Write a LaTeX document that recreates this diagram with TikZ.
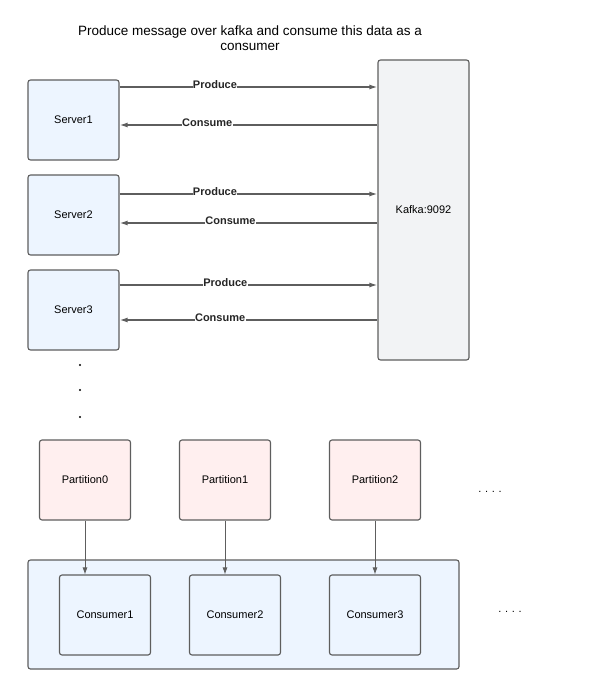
\documentclass[tikz,border=0pt]{standalone}
\usepackage{fontspec}
\setmainfont{Liberation Sans}
\usetikzlibrary{arrows.meta}
\usetikzlibrary{calc}

\definecolor{edgegray}{HTML}{5E5E5E}
\definecolor{serverblue}{HTML}{EDF5FF}
\definecolor{partpink}{HTML}{FFEFEF}
\definecolor{kafkagray}{HTML}{F2F3F5}

\tikzset{
  box/.style={draw=edgegray, line width=1.1pt, rounded corners=2.5pt,
    minimum width=91pt, minimum height=80pt, font=\fontsize{11}{13}\selectfont},
  server/.style={box, fill=serverblue},
  part/.style={box, fill=partpink},
  flow/.style={draw=edgegray, line width=1.4pt, -{Latex[length=8pt,width=5pt]}},
  feed/.style={draw=edgegray, line width=0.8pt, -{Latex[length=7pt,width=5pt]}},
  tag/.style={fill=white, inner sep=0.4pt, yshift=2pt, text=black!85,
    font=\bfseries\fontsize{11}{13}\selectfont}
}

\begin{document}
\begin{tikzpicture}[x=1pt, y=-1pt]
\useasboundingbox (0,0) rectangle (590,690);

% Title
\node[align=center, font=\fontsize{13.5}{15.5}\selectfont] (title) at (250,38)
  {Produce message over kafka and consume this data as a\\consumer};

% First, define nodes
\node[server] (S1) at (73.5,120) {Server1};
\node[server] (S2) at (73.5,215) {Server2};
\node[server] (S3) at (73.5,310) {Server3};
\node[box, fill=kafkagray, minimum height=300pt] (K) at (423.5,210) {Kafka:9092};

% produce / consume lines, shifted from the server centre
\draw[flow] ([yshift=33pt]S1.east) -- ([yshift=33pt]S1.east -| K.west)
  node[tag, pos=0.37] {Produce};
\draw[flow] ([yshift=-5pt]S1.east -| K.west) -- ([yshift=-5pt]S1.east)
  node[tag, pos=0.66] {Consume};
\draw[flow] ([yshift=21pt]S2.east) -- ([yshift=21pt]S2.east -| K.west)
  node[tag, pos=0.37] {Produce};
\draw[flow] ([yshift=-8pt]S2.east -| K.west) -- ([yshift=-8pt]S2.east)
  node[tag, pos=0.57] {Consume};
\draw[flow] ([yshift=25pt]S3.east) -- ([yshift=25pt]S3.east -| K.west)
  node[tag, pos=0.41] {Produce};
\draw[flow] ([yshift=-10pt]S3.east -| K.west) -- ([yshift=-10pt]S3.east)
  node[tag, pos=0.61] {Consume};

% more servers
\foreach \y in {365,390,417} {
  \fill (80,\y) circle (1.2pt);
}

% Partitions
\node[part] (P0) at (85,480) {Partition0};
\node[part] (P1) at (225,480) {Partition1};
\node[part] (P2) at (375,480) {Partition2};
\node[font=\fontsize{11}{13}\selectfont] (pmore) at (490,492) {.\,\,.\,\,.\,\,.};

% Consumer group and its consumers
\node[draw=edgegray, line width=1.1pt, rounded corners=2.5pt, fill=serverblue,
  minimum width=431pt, minimum height=109pt] (G) at (243.5,614.5) {};
\node[server] (C1) at (105,615) {Consumer1};
\node[server] (C2) at (235,615) {Consumer2};
\node[server] (C3) at (375,615) {Consumer3};
\node[font=\fontsize{11}{13}\selectfont] (cmore) at (510,612) {.\,\,.\,\,.\,\,.};

% partition -> consumer
\draw[feed] (P0.south) -- (P0.south |- C1.north);
\draw[feed] (P1.south) -- (P1.south |- C2.north);
\draw[feed] (P2.south) -- (P2.south |- C3.north);

\end{tikzpicture}
\end{document}
